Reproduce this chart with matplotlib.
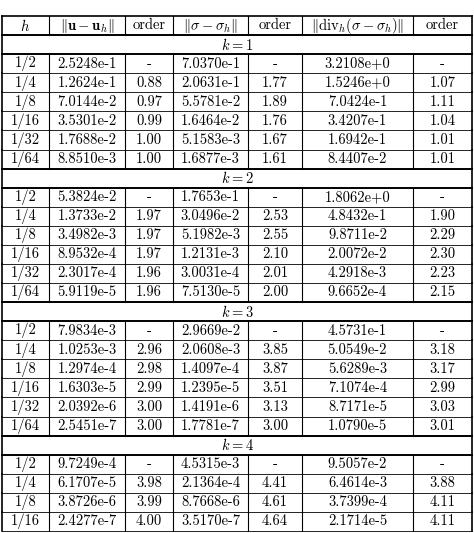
import matplotlib.pyplot as plt

plt.rcParams['font.family'] = 'serif'
plt.rcParams['font.serif'] = ['cmr10', 'DejaVu Serif']
plt.rcParams['mathtext.fontset'] = 'cm'

headers = [r'$h$', r'$\|\mathbf{u}-\mathbf{u}_h\|$', 'order',
           r'$\|\sigma-\sigma_h\|$', 'order',
           r'$\|\mathrm{div}_h(\sigma-\sigma_h)\|$', 'order']

h_vals = ['1/2', '1/4', '1/8', '1/16', '1/32', '1/64']

k1 = [['2.5248e-1', '-', '7.0370e-1', '-', '3.2108e+0', '-'],
      ['1.2624e-1', '0.88', '2.0631e-1', '1.77', '1.5246e+0', '1.07'],
      ['7.0144e-2', '0.97', '5.5781e-2', '1.89', '7.0424e-1', '1.11'],
      ['3.5301e-2', '0.99', '1.6464e-2', '1.76', '3.4207e-1', '1.04'],
      ['1.7688e-2', '1.00', '5.1583e-3', '1.67', '1.6942e-1', '1.01'],
      ['8.8510e-3', '1.00', '1.6877e-3', '1.61', '8.4407e-2', '1.01']]
k2 = [['5.3824e-2', '-', '1.7653e-1', '-', '1.8062e+0', '-'],
      ['1.3733e-2', '1.97', '3.0496e-2', '2.53', '4.8432e-1', '1.90'],
      ['3.4982e-3', '1.97', '5.1982e-3', '2.55', '9.8711e-2', '2.29'],
      ['8.9532e-4', '1.97', '1.2131e-3', '2.10', '2.0072e-2', '2.30'],
      ['2.3017e-4', '1.96', '3.0031e-4', '2.01', '4.2918e-3', '2.23'],
      ['5.9119e-5', '1.96', '7.5130e-5', '2.00', '9.6652e-4', '2.15']]
k3 = [['7.9834e-3', '-', '2.9669e-2', '-', '4.5731e-1', '-'],
      ['1.0253e-3', '2.96', '2.0608e-3', '3.85', '5.0549e-2', '3.18'],
      ['1.2974e-4', '2.98', '1.4097e-4', '3.87', '5.6289e-3', '3.17'],
      ['1.6303e-5', '2.99', '1.2395e-5', '3.51', '7.1074e-4', '2.99'],
      ['2.0392e-6', '3.00', '1.4191e-6', '3.13', '8.7171e-5', '3.03'],
      ['2.5451e-7', '3.00', '1.7781e-7', '3.00', '1.0790e-5', '3.01']]
k4 = [['9.7249e-4', '-', '4.5315e-3', '-', '9.5057e-2', '-'],
      ['6.1707e-5', '3.98', '2.1364e-4', '4.41', '6.4614e-3', '3.88'],
      ['3.8726e-6', '3.99', '8.7668e-6', '4.61', '3.7399e-4', '4.11'],
      ['2.4277e-7', '4.00', '3.5170e-7', '4.64', '2.1714e-5', '4.11']]
blocks = [('$k=1$', k1), ('$k=2$', k2), ('$k=3$', k3), ('$k=4$', k4)]

col_edges = [2, 49, 125, 173, 248, 302, 413, 472]
top = 16
row_h = (531 - top) / 27

fig = plt.figure(figsize=(4.74, 5.33), dpi=100)
ax = fig.add_axes([0, 0, 1, 1])
ax.set_xlim(0, 474)
ax.set_ylim(533, 0)
ax.axis('off')

fs = 10.5
cx = [(col_edges[i] + col_edges[i + 1]) / 2 for i in range(7)]


def vlines(y0, y1, inner=True):
    for x in col_edges:
        outer = x in (col_edges[0], col_edges[-1])
        if outer or inner:
            ax.plot([x, x], [y0, y1], color='black', lw=1.2 if outer else 0.8)


y = top
ax.plot([col_edges[0], col_edges[-1]], [y, y], color='black', lw=1.2)
for i, t in enumerate(headers):
    ax.text(cx[i], y + row_h / 2, t, ha='center', va='center', fontsize=fs)
vlines(y, y + row_h)
y += row_h
for label, rows in blocks:
    ax.plot([col_edges[0], col_edges[-1]], [y, y], color='black', lw=1.4)
    ax.text(237, y + row_h / 2, label, ha='center', va='center', fontsize=fs)
    vlines(y, y + row_h, inner=False)
    y += row_h
    ax.plot([col_edges[0], col_edges[-1]], [y, y], color='black', lw=1.4)
    for j, r in enumerate(rows):
        cells = [h_vals[j]] + r
        for i, t in enumerate(cells):
            ax.text(cx[i], y + row_h / 2, t, ha='center', va='center', fontsize=fs)
        vlines(y, y + row_h)
        y += row_h
        ax.plot([col_edges[0], col_edges[-1]], [y, y], color='black', lw=0.6)

fig.savefig('out.png', dpi=100)
